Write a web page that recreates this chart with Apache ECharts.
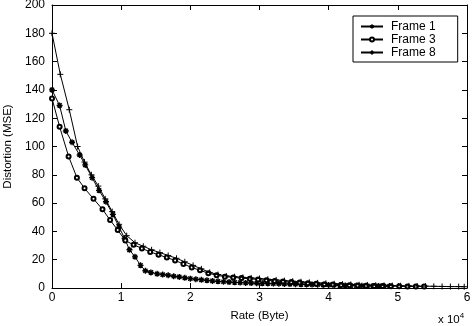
<!DOCTYPE html>
<html>
<head>
<meta charset="utf-8">
<script src="https://cdn.jsdelivr.net/npm/echarts@6/dist/echarts.min.js"></script>
<style>html,body{margin:0;padding:0;background:#fff}#c{width:474px;height:326px}</style>
</head>
<body>
<div id="c"></div>
<script>
// x values in units of 10^4 bytes
const frame1X = [0, 0.11, 0.2, 0.29, 0.4, 0.48, 0.58, 0.68, 0.78, 0.88, 0.97, 1.05, 1.12, 1.2, 1.28, 1.35, 1.43, 1.52, 1.6, 1.68, 1.76, 1.84, 1.92, 2.0, 2.08, 2.16, 2.24, 2.32, 2.4, 2.48, 2.56, 2.64, 2.72, 2.8, 2.88, 2.96, 3.04, 3.12, 3.2, 3.28, 3.36, 3.44, 3.52, 3.6, 3.68, 3.76, 3.84, 3.92, 4.0, 4.08, 4.16, 4.24, 4.32, 4.4, 4.48, 4.56, 4.64, 4.72, 4.8, 4.88];
const frame1Y = [140, 129, 111, 103, 94, 87, 78, 69, 61, 52, 43, 35, 27, 22, 16, 12.2, 11, 10, 9.5, 9, 8.3, 7.8, 7.2, 6.6, 6.2, 5.8, 5.4, 5.0, 4.7, 4.4, 4.2, 4.0, 3.8, 3.6, 3.5, 3.4, 3.3, 3.2, 3.1, 3.0, 2.9, 2.8, 2.7, 2.6, 2.5, 2.4, 2.3, 2.2, 2.1, 2.0, 1.9, 1.8, 1.7, 1.65, 1.6, 1.55, 1.5, 1.45, 1.4, 1.35];

const frame3X = [0, 0.11, 0.24, 0.36, 0.47, 0.6, 0.73, 0.84, 0.95, 1.06, 1.18, 1.3, 1.42, 1.54, 1.66, 1.78, 1.9, 2.02, 2.14, 2.26, 2.38, 2.5, 2.62, 2.74, 2.86, 2.98, 3.1, 3.22, 3.34, 3.46, 3.58, 3.7, 3.82, 3.94, 4.06, 4.18, 4.3, 4.42, 4.54, 4.66, 4.78, 4.9, 5.02, 5.14, 5.26, 5.38];
const frame3Y = [134, 114, 93, 78, 70.5, 63, 55.6, 48, 41, 33.5, 30.5, 28, 25.5, 23.5, 21.5, 19.5, 17, 14.5, 12.5, 10.5, 9, 8, 7.5, 7, 6.5, 6, 5.5, 5, 4.6, 4.2, 3.8, 3.4, 3.0, 2.7, 2.4, 2.2, 2.0, 1.8, 1.6, 1.5, 1.4, 1.3, 1.2, 1.1, 1.0, 1.0];

const frame8X = [0, 0.12, 0.25, 0.37, 0.47, 0.57, 0.67, 0.77, 0.87, 0.97, 1.08, 1.2, 1.32, 1.44, 1.56, 1.68, 1.8, 1.92, 2.04, 2.16, 2.28, 2.4, 2.52, 2.64, 2.76, 2.88, 3.0, 3.12, 3.24, 3.36, 3.48, 3.6, 3.72, 3.84, 3.96, 4.08, 4.2, 4.32, 4.44, 4.56, 4.68, 4.8, 4.92, 5.04, 5.16, 5.28, 5.4, 5.52, 5.64, 5.76, 5.88, 5.96];
const frame8Y = [180, 151, 126, 100, 89, 80, 72, 63, 54, 45, 37, 32, 29.5, 27, 25, 23, 21, 18.5, 16, 13.5, 11, 9.5, 8.5, 8, 7.5, 7.1, 6.7, 6.2, 5.7, 5.2, 4.8, 4.4, 4.0, 3.6, 3.3, 3.0, 2.7, 2.5, 2.3, 2.1, 1.9, 1.8, 1.7, 1.6, 1.5, 1.4, 1.3, 1.2, 1.1, 1.0, 1.0, 0.9];

const seriesNames = ['Frame 1', 'Frame 3', 'Frame 8'];
const xTicks = [0, 1, 2, 3, 4, 5, 6];
const yTicks = [0, 20, 40, 60, 80, 100, 120, 140, 160, 180, 200];

const FONT = 'Liberation Sans, Arial, Helvetica, sans-serif';
const zip = (xs, ys) => xs.map((x, i) => [x, ys[i]]);

const asterisk = 'path://M0,5L10,5M5,0L5,10M1.5,1.5L8.5,8.5M1.5,8.5L8.5,1.5';
const plus = 'path://M0,5L10,5M5,0L5,10';

const axisCommon = {
  axisLine: { show: true, onZero: false, lineStyle: { color: '#000', width: 1 } },
  axisTick: { show: true, inside: true, length: 5, lineStyle: { color: '#000' } },
  splitLine: { show: false }
};

const chart = echarts.init(document.getElementById('c'), null, { renderer: 'canvas' });
chart.setOption({
  animation: false,
  backgroundColor: '#fff',
  textStyle: { fontFamily: FONT },
  grid: { left: 52, right: 7, top: 5, bottom: 38, containLabel: false, outerBoundsMode: 'none' },
  xAxis: [
    Object.assign({}, axisCommon, {
      type: 'value', min: xTicks[0], max: xTicks[xTicks.length - 1], interval: 1, position: 'bottom',
      axisLabel: { color: '#000', fontSize: 12, fontFamily: FONT, margin: 4 },
      name: 'Rate (Byte)', nameLocation: 'middle', nameGap: 22,
      nameTextStyle: { color: '#000', fontSize: 11.5, fontFamily: FONT }
    }),
    Object.assign({}, axisCommon, {
      type: 'value', min: 0, max: 6, interval: 1, position: 'top',
      axisLabel: { show: false }
    })
  ],
  yAxis: [
    Object.assign({}, axisCommon, {
      type: 'value', min: yTicks[0], max: yTicks[yTicks.length - 1], interval: 20, position: 'left',
      axisLabel: { color: '#000', fontSize: 12, fontFamily: FONT, margin: 7 },
      name: 'Distortion (MSE)', nameLocation: 'middle', nameGap: 38, nameRotate: 90,
      nameTextStyle: { color: '#000', fontSize: 11.5, fontFamily: FONT }
    }),
    Object.assign({}, axisCommon, {
      type: 'value', min: 0, max: 200, interval: 20, position: 'right',
      axisLabel: { show: false }
    })
  ],
  legend: {
    orient: 'vertical', left: 353, top: 16,
    data: seriesNames,
    itemWidth: 22, itemHeight: 5, itemGap: 0,
    padding: [4, 22, 3, 7],
    backgroundColor: '#fff', borderColor: '#000', borderWidth: 1, borderRadius: 0,
    textStyle: { color: '#000', fontSize: 12, lineHeight: 13, fontFamily: FONT, padding: [0, 0, 0, 3] }
  },
  graphic: [{
    type: 'text', left: 438, top: 312,
    style: {
      text: 'x 10{s|4}', fill: '#000', font: '11.5px ' + FONT,
      rich: { s: { fontSize: 8, verticalAlign: 'top', padding: [0, 0, 8, 0], fontFamily: FONT } }
    }
  }],
  series: [
    {
      name: seriesNames[0], type: 'line', data: zip(frame1X, frame1Y),
      symbol: asterisk, symbolSize: 6, showAllSymbol: true,
      lineStyle: { color: '#000', width: 1 },
      itemStyle: { color: '#000', borderColor: '#000', borderWidth: 1.4 }
    },
    {
      name: seriesNames[1], type: 'line', data: zip(frame3X, frame3Y),
      symbol: 'emptyCircle', symbolSize: 4, showAllSymbol: true,
      lineStyle: { color: '#000', width: 1 },
      itemStyle: { color: '#000', borderColor: '#000', borderWidth: 0.8 }
    },
    {
      name: seriesNames[2], type: 'line', data: zip(frame8X, frame8Y),
      symbol: plus, symbolSize: 6, showAllSymbol: true,
      lineStyle: { color: '#000', width: 1 },
      itemStyle: { color: '#000', borderColor: '#000', borderWidth: 1 }
    }
  ]
});
</script>
</body>
</html>
